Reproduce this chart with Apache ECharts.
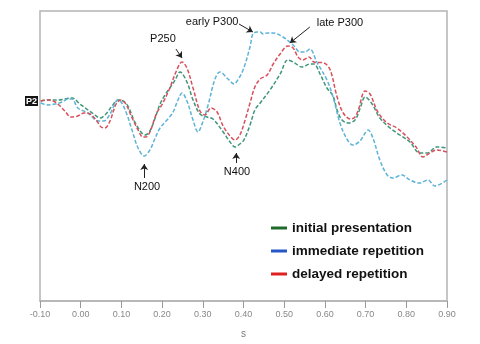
<!DOCTYPE html>
<html>
<head>
<meta charset="utf-8">
<script src="https://cdn.jsdelivr.net/npm/echarts@6/dist/echarts.min.js"></script>
<style>html,body{margin:0;padding:0;background:#fff}#c{width:480px;height:344px}</style>
</head>
<body>
<div id="c"></div>
<script>
// x tick labels
var xTicks = [-0.10, 0.00, 0.10, 0.20, 0.30, 0.40, 0.50, 0.60, 0.70, 0.80, 0.90];
var seriesNames = ['initial presentation', 'immediate repetition', 'delayed repetition'];

// initial presentation (time in s, amplitude)
var timeInitial = [-0.098,-0.080,-0.056,-0.039,-0.021,-0.002,0.018,0.035,0.047,0.062,0.077,0.092,0.104,0.116,0.133,0.148,0.158,0.170,0.183,0.195,0.207,0.219,0.232,0.244,0.261,0.276,0.293,0.310,0.325,0.350,0.367,0.379,0.391,0.401,0.416,0.428,0.441,0.465,0.490,0.509,0.522,0.544,0.563,0.573,0.588,0.605,0.620,0.630,0.642,0.657,0.674,0.686,0.699,0.716,0.735,0.760,0.784,0.809,0.833,0.851,0.875,0.900];
var initial = [0.0,0.1,0.1,0.2,0.3,-0.3,-0.9,-1.4,-1.7,-1.3,-0.5,0.1,0.0,-0.5,-2.1,-3.1,-3.4,-3.0,-1.7,-0.3,0.6,1.3,2.1,2.9,1.9,0.1,-1.3,-1.6,-1.8,-3.1,-4.1,-4.6,-4.3,-3.9,-2.4,-0.9,-0.2,1.1,2.7,4.1,3.9,3.4,3.7,3.7,2.7,1.3,0.5,-0.9,-1.9,-2.2,-1.9,-0.8,0.4,-0.3,-1.7,-2.7,-3.4,-4.1,-5.2,-5.2,-4.6,-4.7];

// immediate repetition
var timeImmediate = [-0.098,-0.080,-0.063,-0.046,-0.031,-0.021,-0.007,0.018,0.043,0.057,0.072,0.092,0.101,0.114,0.126,0.141,0.156,0.170,0.183,0.195,0.212,0.227,0.239,0.249,0.261,0.276,0.288,0.300,0.313,0.330,0.342,0.362,0.377,0.386,0.399,0.416,0.423,0.433,0.441,0.448,0.458,0.473,0.497,0.522,0.539,0.551,0.563,0.580,0.605,0.620,0.637,0.654,0.669,0.686,0.699,0.706,0.718,0.735,0.753,0.767,0.789,0.809,0.833,0.853,0.870,0.900];
var immediate = [-0.2,-0.4,-0.3,-0.1,0.2,0.2,-0.7,-1.2,-2.0,-2.0,-1.3,0.1,-0.2,-1.4,-2.9,-4.7,-5.5,-4.9,-3.7,-2.7,-1.9,-1.1,0.1,0.8,0.0,-1.9,-3.1,-2.1,-0.4,2.2,2.9,2.2,1.7,2.1,3.1,5.4,6.7,6.9,6.9,6.7,6.8,6.8,6.4,5.6,4.9,4.9,5.2,3.9,2.1,0.4,-2.2,-3.8,-4.4,-4.0,-3.2,-2.9,-3.7,-5.9,-7.4,-7.7,-7.4,-7.9,-8.2,-7.9,-8.5,-7.9];

// delayed repetition
var timeDelayed = [-0.098,-0.080,-0.063,-0.051,-0.039,-0.024,-0.007,0.008,0.023,0.038,0.050,0.060,0.072,0.087,0.099,0.111,0.124,0.141,0.153,0.160,0.170,0.187,0.202,0.219,0.234,0.249,0.261,0.276,0.293,0.305,0.320,0.335,0.350,0.367,0.379,0.391,0.404,0.416,0.428,0.441,0.458,0.473,0.490,0.509,0.522,0.534,0.546,0.561,0.573,0.598,0.613,0.630,0.645,0.663,0.674,0.682,0.699,0.711,0.730,0.753,0.777,0.802,0.824,0.841,0.858,0.875,0.900];
var delayed = [0.0,0.1,-0.1,-0.5,-1.0,-1.6,-1.5,-1.2,-1.3,-1.9,-2.6,-2.7,-2.0,-0.3,0.1,-0.3,-1.5,-2.9,-3.6,-3.6,-3.1,-1.2,-0.2,1.3,2.9,3.9,3.3,1.3,-1.0,-1.4,-0.7,-1.1,-2.5,-3.5,-3.9,-3.4,-1.9,-0.2,1.4,2.2,2.6,3.7,4.7,5.5,5.3,4.4,4.1,4.4,3.9,3.8,3.1,0.4,-1.2,-1.8,-1.6,-0.9,1.0,0.7,-1.1,-2.2,-2.7,-3.6,-4.6,-5.6,-5.2,-4.9,-5.1];

// component annotations: [label, labelT, labelV, arrowFromT, arrowFromV, arrowToT, arrowToV]
var annotations = [
  ['P250', 0.202, 6.2, 0.234, 5.2, 0.249, 4.3],
  ['early P300', 0.323, 7.9, 0.389, 7.7, 0.423, 6.9],
  ['late P300', 0.637, 7.8, 0.563, 7.4, 0.514, 5.8],
  ['N200', 0.163, -8.6, 0.156, -7.7, 0.156, -6.3],
  ['N400', 0.384, -7.1, 0.382, -6.2, 0.382, -5.2]
];

function zip(t, v) { return t.map(function (x, i) { return [x, v[i]]; }); }

var lineColors = ['#3f9678', '#5db3d8', '#d9505c'];
var legendColors = ['#1f6b2b', '#2456c8', '#e0201e'];

var chart = echarts.init(document.getElementById('c'), null, {renderer: 'canvas'});

var markPts = annotations.map(function (a) {
  return {coord: [a[1], a[2]], name: a[0], value: a[0]};
});
var markLns = annotations.map(function (a) {
  return [{coord: [a[3], a[4]]}, {coord: [a[5], a[6]]}];
});

var option = {
  backgroundColor: '#ffffff',
  animation: false,
  grid: {left: 40, right: 33, top: 11, bottom: 43, show: true, borderColor: '#b4b4b4', borderWidth: 1.5, backgroundColor: 'transparent'},
  xAxis: {
    type: 'value', min: xTicks[0], max: xTicks[xTicks.length - 1], interval: 0.1,
    name: 's', nameLocation: 'middle', nameGap: 28,
    nameTextStyle: {color: '#777', fontSize: 10, fontFamily: 'Liberation Sans'},
    axisLine: {show: true, onZero: false, lineStyle: {color: '#b4b4b4', width: 1.5}},
    axisTick: {show: true, length: 7, lineStyle: {color: '#999'}},
    axisLabel: {color: '#888', fontSize: 9, margin: 9, fontFamily: 'Liberation Sans',
      formatter: function (v) { return v.toFixed(2); }},
    splitLine: {show: false}
  },
  yAxis: {
    type: 'value', min: -20, max: 9, interval: 10,
    axisLine: {show: false}, axisTick: {show: false}, splitLine: {show: false},
    axisLabel: {margin: 2, formatter: function (v) { return v === 0 ? '{p|P2}' : ''; },
      rich: {p: {backgroundColor: '#151515', color: '#fff', fontSize: 9, fontWeight: 'bold', padding: [1, 1, 0, 1], fontFamily: 'Liberation Sans'}}}
  },
  legend: {
    orient: 'vertical', left: 266, top: 216, itemWidth: 16, itemHeight: 3, itemGap: 9,
    textStyle: {fontSize: 13.5, fontWeight: 'bold', color: '#111', fontFamily: 'Liberation Sans'},
    data: seriesNames.map(function (n, i) {
      return {name: n, icon: 'rect', itemStyle: {color: legendColors[i]}};
    })
  },
  series: [
    {name: seriesNames[0], type: 'line', data: zip(timeInitial, initial), smooth: 0.35, showSymbol: false,
      lineStyle: {color: lineColors[0], width: 1.5, type: [4, 2]}, itemStyle: {color: lineColors[0]}},
    {name: seriesNames[1], type: 'line', data: zip(timeImmediate, immediate), smooth: 0.35, showSymbol: false,
      lineStyle: {color: lineColors[1], width: 1.5, type: [4, 2]}, itemStyle: {color: lineColors[1]}},
    {name: seriesNames[2], type: 'line', data: zip(timeDelayed, delayed), smooth: 0.35, showSymbol: false,
      lineStyle: {color: lineColors[2], width: 1.5, type: [4, 2]}, itemStyle: {color: lineColors[2]},
      markPoint: {symbol: 'circle', symbolSize: 0, silent: true,
        label: {show: true, position: 'inside', color: '#111', fontSize: 11, fontFamily: 'Liberation Sans', formatter: '{b}'},
        data: markPts},
      markLine: {silent: true, symbol: ['none', 'arrow'], symbolSize: 6,
        lineStyle: {color: '#222', width: 1, type: 'solid'}, label: {show: false},
        data: markLns}
    }
  ]
};
chart.setOption(option);
</script>
</body>
</html>
